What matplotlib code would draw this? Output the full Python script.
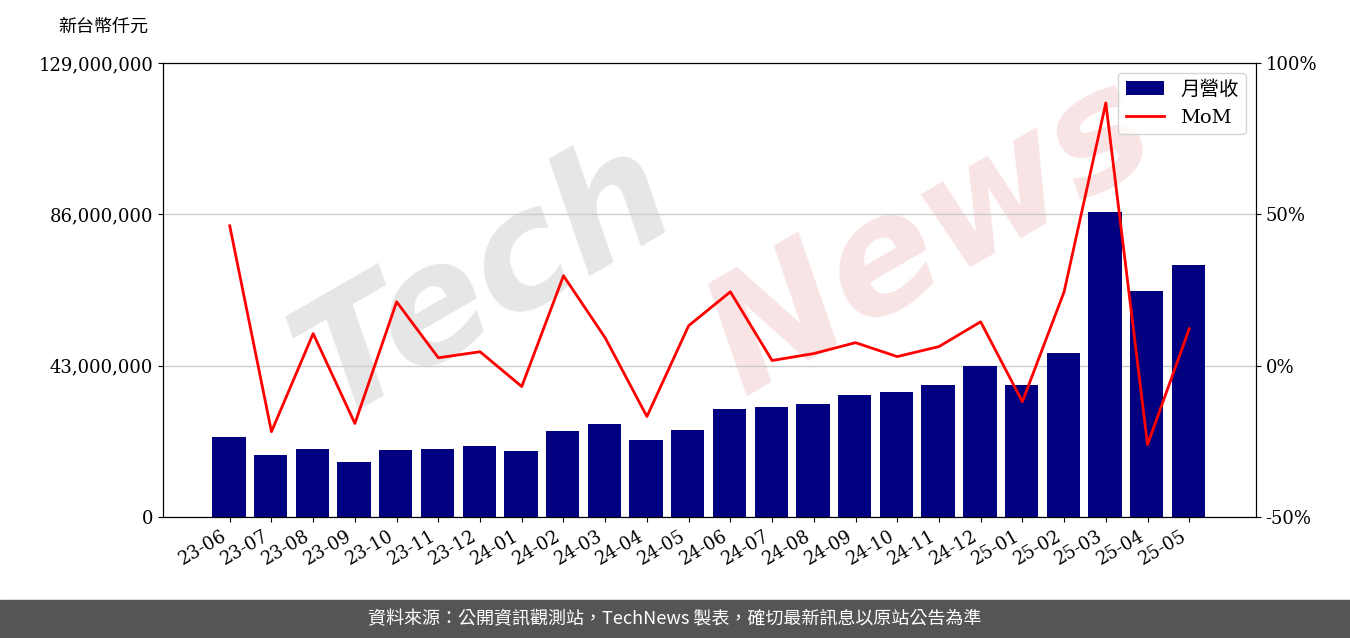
import matplotlib
matplotlib.use("Agg")
import matplotlib.pyplot as plt
from matplotlib.ticker import FuncFormatter

months = ["23-06","23-07","23-08","23-09","23-10","23-11","23-12","24-01","24-02","24-03","24-04","24-05",
          "24-06","24-07","24-08","24-09","24-10","24-11","24-12","25-01","25-02","25-03","25-04","25-05"]
revenue = [22.8,17.6,19.4,15.7,19.1,19.4,20.2,18.8,24.5,26.5,21.9,24.8,
           30.7,31.3,32.2,34.7,35.6,37.6,43.0,37.6,46.7,86.8,64.1,71.5]  # millions
mom = [46.2,-21.8,10.6,-19.1,21.1,2.6,4.6,-6.9,29.7,9.2,-16.8,13.2,
       24.4,1.7,4.0,7.6,3.0,6.3,14.5,-11.9,24.4,86.8,-26.1,12.2]

plt.rcParams['font.family'] = ['DejaVu Serif', 'Noto Sans CJK TC']
fig = plt.figure(figsize=(13.5, 6.38), dpi=100)
fig.text(0.36, 0.56, 'Tech', fontsize=115, rotation=30, color='#e6e6e6',
         ha='center', va='center', family='DejaVu Sans', fontweight='bold', fontstyle='italic', zorder=-5)
fig.text(0.69, 0.63, 'News', fontsize=115, rotation=30, color='#f8e4e4',
         ha='center', va='center', family='DejaVu Sans', fontweight='bold', fontstyle='italic', zorder=-5)
ax = fig.add_axes([163/1350, 1-517/638, (1256-163)/1350, (517-63)/638])
ax.patch.set_visible(False)
x = list(range(len(months)))
ax.bar([i - 0.02 for i in x], [v*1e6 for v in revenue], width=0.8, color='#000080', label='月營收', zorder=2)
ax.set_ylim(0, 129e6)
ax.set_yticks([0, 43e6, 86e6, 129e6])
ax.yaxis.set_major_formatter(FuncFormatter(lambda v, p: f"{int(round(v)):,}"))
ax.grid(axis='y', color='#cccccc', lw=1, zorder=0)
ax.set_xlim(-1.6, 24.6)
ax.set_xticks(x)
ax.set_xticklabels(months, rotation=30, ha='right', fontsize=13)
ax.tick_params(labelsize=13)
ax2 = ax.twinx()
ax2.plot(x, mom, color='red', lw=2, label='MoM')
ax2.set_ylim(-50, 100)
ax2.set_yticks([-50, 0, 50, 100])
ax2.set_yticklabels(['-50%', '0%', '50%', '100%'])
ax2.tick_params(labelsize=13)
h1, l1 = ax.get_legend_handles_labels()
h2, l2 = ax2.get_legend_handles_labels()
ax2.legend(h1+h2, l1+l2, loc='upper right', prop={'family': ['DejaVu Serif', 'Noto Sans CJK TC'], 'size': 14})
fig.text(58/1350, 1-27/638, '新台幣仟元', fontsize=13, family='Noto Sans CJK TC', va='center')
fig.patches.append(plt.Rectangle((0, 0), 1, 38/638, transform=fig.transFigure, color='#555555'))
fig.text(0.5, 19/638, '資料來源：公開資訊觀測站，TechNews 製表，確切最新訊息以原站公告為準', color='white',
         fontsize=13, ha='center', va='center', family='Noto Sans CJK TC')
fig.savefig('out.png', dpi=100)
